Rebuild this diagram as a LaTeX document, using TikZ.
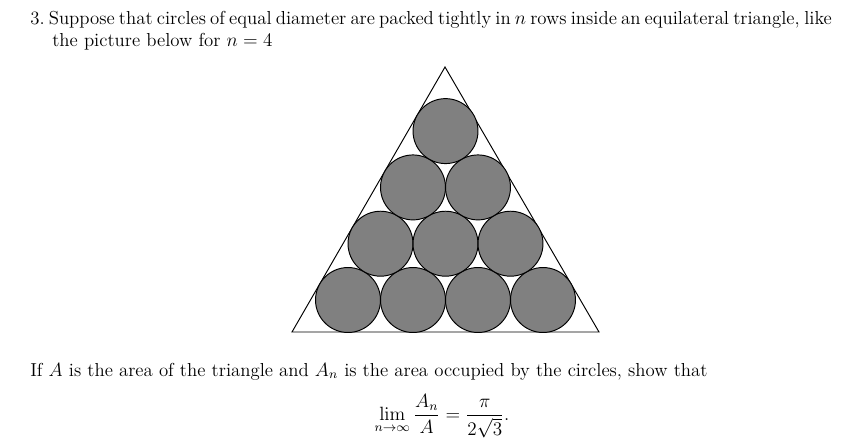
\documentclass[tikz,border=0pt]{standalone}
\usepackage{amsmath}
\tikzset{ball/.style={draw=black,fill=gray!100,line width=0.6pt},tri/.style={draw=black,line width=0.6pt},txt/.style={inner sep=0pt,anchor=base west,font=\fontsize{11.75}{14}\selectfont}}
\begin{document}
\begin{tikzpicture}[x=0.625pt,y=-0.625pt]
\useasboundingbox (0,0) rectangle (866,445);
\path[tri] (445,67) coordinate (apex) -- (599,332) coordinate (br) -- (292,332) coordinate (bl) -- cycle;
\foreach \row/\n in {0/4,1/3,2/2,3/1}{
  \foreach \i in {1,...,\n}{
    \pgfmathsetmacro{\cx}{348+32.5*\row+65*(\i-1)}
    \pgfmathsetmacro{\cy}{300-56.3*\row}
    \node[ball,circle,minimum size=40.6pt,inner sep=0pt] (c\row\i) at (\cx,\cy) {};
  }
}
\node[txt] (l1) at (30,24) {\makebox[501pt][s]{3.\ Suppose that circles of equal diameter are packed tightly in $n$ rows inside an equilateral triangle, like}};
\node[txt] (l2) at (52,46) {the picture below for $n=4$};
\node[txt] (l3) at (30,376) {If $A$ is the area of the triangle and $A_n$ is the area occupied by the circles, show that};
\node[inner sep=0pt,font=\fontsize{11.75}{14}\selectfont] (eq) at (442,416) {$\displaystyle\lim_{n\to\infty}\frac{A_n}{A}=\frac{\pi}{2\sqrt3}.$};
\end{tikzpicture}
\end{document}
